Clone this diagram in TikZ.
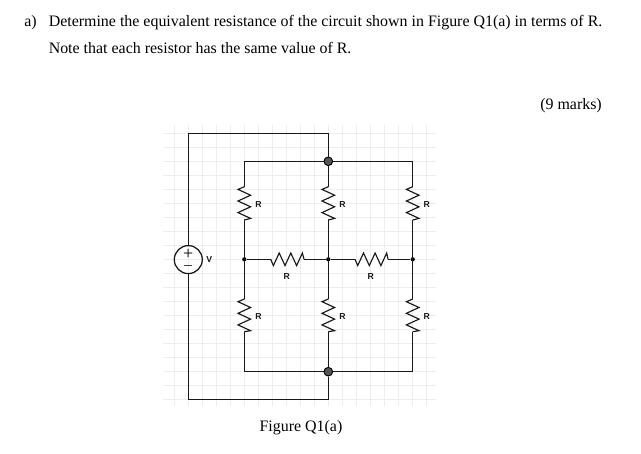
\documentclass[tikz,border=0pt]{standalone}
\usepackage{fontspec}
\setmainfont{Liberation Serif}
\newfontfamily\labelfont{Liberation Sans}
\usetikzlibrary{calc}
\definecolor{gridc}{RGB}{238,238,238}
\definecolor{wirec}{RGB}{25,25,25}
\definecolor{dotc}{RGB}{85,85,85}
\tikzset{
  x=0.75pt,y=-0.75pt,
  wire/.style={draw=wirec,line width=1pt,line join=miter},
  res/.style={draw=wirec,line width=0.85pt,line join=miter},
  gridline/.style={draw=gridc,line width=0.75pt},
  bigdot/.style={circle,draw=black,fill=dotc,line width=0.7pt,minimum size=6.5pt,inner sep=0pt},
  smalldot/.style={circle,fill=black,minimum size=3.2pt,inner sep=0pt},
  source/.style={circle,draw=wirec,line width=0.95pt,minimum size=21pt,inner sep=0pt},
  qtext/.style={inner sep=0pt,anchor=base west,font=\fontsize{11.95pt}{14pt}\selectfont,text=black},
  rlabel/.style={inner sep=0pt,font=\labelfont\bfseries\fontsize{6.5pt}{7pt}\selectfont,text=black!90}
}
\newcommand{\vresist}[2]{\draw[res] (#1) -- ++(-6.3,2.7) -- ++(12.6,5.8) -- ++(-12.6,5.8) -- ++(12.6,5.8) -- ++(-12.6,5.8) -- ++(12.6,5.8) -- (#2);}
\newcommand{\hresist}[2]{\draw[res] (#1) -- ++(2.7,6.3) -- ++(5.8,-12.6) -- ++(5.8,12.6) -- ++(5.8,-12.6) -- ++(5.8,12.6) -- ++(5.8,-12.6) -- (#2);}
\begin{document}
\begin{tikzpicture}
\useasboundingbox (0,0) rectangle (641,453);
\fill[white] (0,0) rectangle (641,453);
% grid
\foreach \gx in {174,188.3,202.3,216.3,230.3,244.3,258.3,272.3,286.3,300.3,314.3,328.3,342.3,356.3,370.3,384.3,398.3,412.7,426.7}
  \draw[gridline] (\gx,125) -- (\gx,406);
\foreach \gy in {133.3,147.3,161.3,175.3,189.3,203.3,217.3,231.3,245.3,259.3,273.3,287.3,301.3,315.3,329.3,343.3,357.3,371.7,385.7,399.7}
  \draw[gridline] (163,\gy) -- (436,\gy);
% text
\node[qtext] (q0) at (24,27) {a)};
\node[qtext] (q1) at (48.5,27) {Determine the equivalent resistance of the circuit shown in Figure Q1(a) in terms of R.};
\node[qtext] (q2) at (48.5,54) {Note that each resistor has the same value of R.};
\node[qtext] (marks) at (540,109.3) {(9 marks)};
\node[qtext,anchor=base] (fig) at (301,431) {Figure Q1(a)};
% junctions
\node[bigdot] (jt) at (328.3,161.3) {};
\node[bigdot] (jb) at (328.3,371.7) {};
\node[smalldot] (ml) at (244.3,259.3) {};
\node[smalldot] (mc) at (328.3,259.3) {};
\node[smalldot] (mr) at (412.7,259.3) {};
\node[source] (src) at (188.3,259.6) {};
\node[inner sep=0pt,font=\fontsize{13.5pt}{13.5pt}\selectfont] (plus) at (188.3,254.2) {+};
\coordinate (minusl) at (184.3,265.7);
\coordinate (minusr) at (192.3,265.7);
\draw[draw=black!75,line width=0.8pt] (minusl) -- (minusr);
\node[rlabel] (v) at (209.3,260) {V};
% corners
\coordinate (ctl) at (188.3,133.3);
\coordinate (ctr) at (328.3,133.3);
\coordinate (cbl) at (188.3,399.7);
\coordinate (cbr) at (328.3,399.7);
\coordinate (itl) at (244.3,161.3);
\coordinate (itr) at (412.7,161.3);
\coordinate (ibl) at (244.3,371.7);
\coordinate (ibr) at (412.7,371.7);
% resistor ends
\foreach \nm/\gx in {a/244.3,b/328.3,c/412.7}{
  \coordinate (\nm1) at (\gx,186.7);
  \coordinate (\nm2) at (\gx,220);
  \coordinate (\nm3) at (\gx,299);
  \coordinate (\nm4) at (\gx,331.7);
}
\coordinate (h1) at (270.7,259.3);
\coordinate (h2) at (304,259.3);
\coordinate (h3) at (355,259.3);
\coordinate (h4) at (388,259.3);
% wires
\draw[wire] (src) -- (ctl) -- (ctr) -- (jt);
\draw[wire] (src) -- (cbl) -- (cbr) -- (jb);
\draw[wire] (a1) -- (itl) -- (jt) -- (itr) -- (c1);
\draw[wire] (jt) -- (b1);
\draw[wire] (a4) -- (ibl) -- (jb) -- (ibr) -- (c4);
\draw[wire] (jb) -- (b4);
\foreach \nm in {a,b,c}{
  \draw[res] (\nm2) -- (\nm3);
  \vresist{\nm1}{\nm2}
  \vresist{\nm3}{\nm4}
}
\draw[wire] (ml) -- (h1);
\draw[wire] (h2) -- (mc) -- (h3);
\draw[wire] (h4) -- (mr);
\hresist{h1}{h2}
\hresist{h3}{h4}
% labels
\node[rlabel] (r1) at (258.5,204.3) {R};
\node[rlabel] (r2) at (342.5,204.3) {R};
\node[rlabel] (r3) at (426.7,204.3) {R};
\node[rlabel] (r4) at (258.5,316.7) {R};
\node[rlabel] (r5) at (342.5,316.7) {R};
\node[rlabel] (r6) at (426.7,316.7) {R};
\node[rlabel] (r7) at (286.7,276.7) {R};
\node[rlabel] (r8) at (370.7,276.7) {R};
\end{tikzpicture}
\end{document}
